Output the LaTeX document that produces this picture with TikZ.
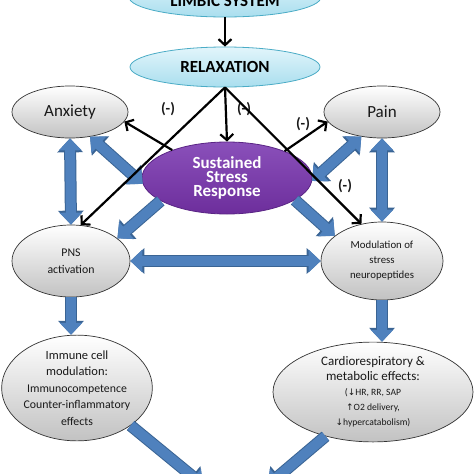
\documentclass[tikz,border=0pt]{standalone}
\usepackage{fontspec}
\setmainfont{Carlito}
\newfontfamily\dv{DejaVu Sans}
\usetikzlibrary{arrows.meta,shapes.geometric,calc}
\definecolor{bluefill}{HTML}{4F81BD}
\definecolor{blueedge}{HTML}{3A6494}
\definecolor{cyantop}{HTML}{E2F5FB}
\definecolor{cyanbot}{HTML}{A9DEEE}
\definecolor{cyanedge}{HTML}{4BACC6}
\definecolor{purtop}{HTML}{8A50BA}
\definecolor{purbot}{HTML}{6D2E9C}
\definecolor{puredge}{HTML}{5A2585}
\definecolor{graybot}{HTML}{C2C2C2}
\tikzset{
  cyanell/.style={ellipse, inner sep=0pt, draw=cyanedge, line width=0.8pt, top color=cyantop, bottom color=cyanbot},
  grayell/.style={ellipse, inner sep=0pt, draw=black!80, line width=0.7pt, top color=white, bottom color=graybot, align=center, text=black!90},
  purell/.style={ellipse, inner sep=0pt, draw=puredge, line width=0.8pt, top color=purtop, bottom color=purbot, align=center, text=white},
  blk/.style={draw=black, line width=2.2pt, -{Straight Barb[length=6pt,width=13pt]}},
  blueone/.style={draw=bluefill, line width=10pt, -{Triangle[width=22pt,length=12pt]},
     preaction={draw=blueedge, line width=12pt, -{Triangle[width=25pt,length=14pt]}}},
  bluetwo/.style={draw=bluefill, line width=10pt, {Triangle[width=22pt,length=12pt]}-{Triangle[width=22pt,length=12pt]},
     preaction={draw=blueedge, line width=12pt, {Triangle[width=25pt,length=14pt]}-{Triangle[width=25pt,length=14pt]}}},
  minus/.style={font=\bfseries\fontsize{15}{15}\selectfont, inner sep=0pt, text=black!90}
}
\begin{document}
\begin{tikzpicture}[x=1pt,y=-1pt]
\useasboundingbox (0,0) rectangle (474,474);
\fill[white] (0,0) rectangle (474,474);

% nodes
\node[cyanell, minimum width=192pt, minimum height=40pt] (lim) at (225,-3) {};
\node[font=\bfseries\fontsize{17}{17}\selectfont, inner sep=0pt] (limtxt) at (225,1) {LIMBIC SYSTEM};
\node[cyanell, minimum width=190pt, minimum height=40pt, font=\bfseries\fontsize{17}{17}\selectfont] (rel) at (225,67) {RELAXATION};
\node[grayell, minimum width=116pt, minimum height=52pt, font=\fontsize{17}{18}\selectfont] (anx) at (70,112) {Anxiety};
\node[grayell, minimum width=116pt, minimum height=52pt, font=\fontsize{17}{18}\selectfont] (pain) at (382,112) {Pain};
\node[purell, minimum width=170pt, minimum height=72pt, font=\bfseries\fontsize{17}{13.8}\selectfont] (ssr) at (227,178) {Sustained\\Stress\\Response};
\node[grayell, minimum width=118pt, minimum height=72pt, font=\fontsize{11.8}{17}\selectfont] (pns) at (71,261) {PNS\\activation};
\node[grayell, minimum width=122pt, minimum height=78pt, font=\fontsize{10.8}{15}\selectfont] (mod) at (382,261) {Modulation of\\stress\\neuropeptides};
\node[grayell, minimum width=148pt, minimum height=96pt, font=\fontsize{11.8}{16.5}\selectfont] (imm) at (77,388)
  {{\fontsize{12.5}{16.5}\selectfont Immune cell}\\{\fontsize{12.5}{16.5}\selectfont modulation:}\\Immunocompetence\\Counter-inflammatory\\effects};
\node[grayell, minimum width=200pt, minimum height=96pt, font=\fontsize{9.6}{15}\selectfont] (card) at (373,392)
  {{\fontsize{13}{15}\selectfont Cardiorespiratory \&}\\{\fontsize{13}{15}\selectfont metabolic effects:}\\({\dv\fontsize{9}{15}\selectfont ↓}HR, RR, SAP\\{\dv\fontsize{9}{15}\selectfont ↑}O2 delivery,\\{\dv\fontsize{9}{15}\selectfont ↓}hypercatabolism)};

% free ends below the frame
\coordinate (outL) at (203,485);
\coordinate (outR) at (268,485);

% blue arrows
\draw[bluetwo] (anx.south) -- (pns.north);
\draw[bluetwo] (anx.-51) -- (ssr.184);
\draw[blueone] (ssr.199) -- (pns.26);
\draw[bluetwo] (pns.east) -- (mod.west);
\draw[bluetwo] (pain.south) -- (mod.north);
\draw[bluetwo] (pain.230) -- (ssr.-2);
\draw[blueone] (ssr.-18) -- (mod.152);
\draw[blueone] (pns.south) -- (pns.south |- imm.north);
\draw[blueone] (mod.south) -- (mod.south |- card.north);
\draw[blueone] (imm.-35) -- (outL);
\draw[blueone] (card.223) -- (outR);

% labels
\node[minus] (m1) at (168,109) {(-)};
\node[minus] (m2) at (244,109) {(-)};
\node[minus] (m3) at (303,124) {(-)};
\node[minus] (m4) at (345,186) {(-)};

% black arrows
\draw[blk] (lim.south) -- (rel.north);
\draw[blk] (rel.south) -- (ssr.north);
\draw[blk] (rel.south) -- (pns.75);
\draw[blk] (rel.south) -- (mod.119);
\draw[blk] (ssr.153) -- (anx.-10);
\draw[blk] (ssr.25) -- (pain.190);
\end{tikzpicture}
\end{document}
